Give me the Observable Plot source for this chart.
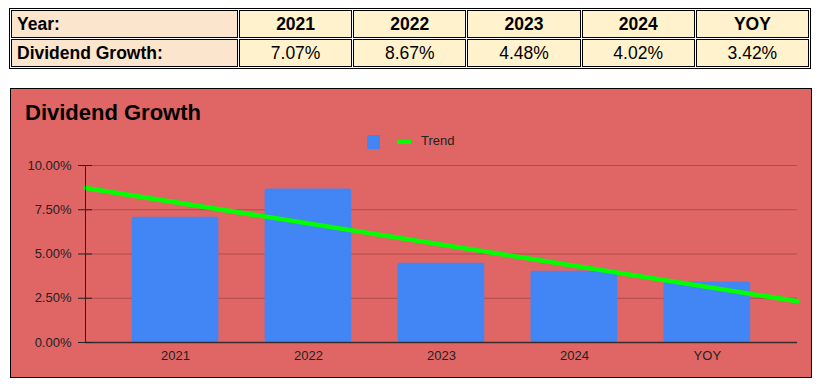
<!DOCTYPE html>
<html>
<head>
<meta charset="utf-8">
<script src="https://cdn.jsdelivr.net/npm/d3@7"></script>
<script src="https://cdn.jsdelivr.net/npm/@observablehq/plot@0.6"></script>
<style>
  html, body { margin: 0; padding: 0; background: #fff; }
  body { width: 822px; height: 384px; position: relative; font-family: "Liberation Sans", Arial, sans-serif; }
  table.summary {
    position: absolute; left: 9px; top: 8px;
    width: 802px; box-sizing: border-box;
    border: 1px solid #000; border-collapse: separate; border-spacing: 1px;
    table-layout: fixed; font-size: 17.5px; color: #000;
  }
  table.summary td {
    box-sizing: border-box; height: 28px; border: 1px solid #000;
    padding: 0 5px; vertical-align: middle; text-align: center;
    background: #fff2cc; white-space: nowrap;
  }
  table.summary td.lab { background: #fce5cd; text-align: left; font-weight: bold; width: 227px; }
  table.summary tr.head td { font-weight: bold; }
  #chartbox {
    position: absolute; left: 10px; top: 88px; width: 800px; height: 288px;
    border: 1px solid #000; background: #e06666; overflow: hidden;
  }
  #title { position: absolute; left: 14px; top: 13px; font-size: 22px; line-height: 22px; font-weight: bold; color: #000; white-space: nowrap; }
  #legend { position: absolute; left: 0; top: 0; }
  .lg-sq { position: absolute; left: 356px; top: 46px; width: 13px; height: 14px; background: #4285f4; border-radius: 1px; }
  .lg-ln { position: absolute; left: 386px; top: 51px; width: 14px; height: 4px; background: #00ff00; }
  .lg-tx { position: absolute; left: 410px; top: 45px; font-size: 13px; line-height: 13px; color: #222; white-space: nowrap; }
  #plot { position: absolute; left: 0; top: 0; }
</style>
</head>
<body>
<table class="summary" id="tbl"></table>
<div id="chartbox">
  <div id="plot"></div>
  <div id="title">Dividend Growth</div>
  <div id="legend">
    <div class="lg-sq"></div>
    <div class="lg-ln"></div>
    <div class="lg-tx">Trend</div>
  </div>
</div>
<script>
// ---- data ----
const categories = ["2021", "2022", "2023", "2024", "YOY"];
const growth = [7.07, 8.67, 4.48, 4.02, 3.42];          // percent
const yTicks = [0, 2.5, 5, 7.5, 10];                     // percent
const tableHeaderLabel = "Year:";
const tableRowLabel = "Dividend Growth:";
// trend line endpoints (category-index units, percent)
const trendX = [-0.677, 4.678];
const trendY = [8.73, 2.33];

// ---- table ----
const tbl = document.getElementById("tbl");
const tr1 = document.createElement("tr"); tr1.className = "head";
const tr2 = document.createElement("tr");
const mk = (tr, text, cls) => { const td = document.createElement("td"); td.textContent = text; if (cls) td.className = cls; tr.appendChild(td); };
mk(tr1, tableHeaderLabel, "lab");
mk(tr2, tableRowLabel, "lab");
categories.forEach((c, i) => { mk(tr1, c); mk(tr2, growth[i].toFixed(2) + "%"); });
tbl.appendChild(tr1); tbl.appendChild(tr2);

// ---- chart ----
const data = categories.map((c, i) => ({i, c, v: growth[i]}));
const trend = trendX.map((x, k) => ({x, y: trendY[k]}));
const xDomain = [trendX[0], trendX[1]];
const barHalf = 0.326;

const chart = Plot.plot({
  width: 800,
  height: 288,
  marginLeft: 74,
  marginRight: 14,
  marginTop: 76,
  marginBottom: 35,
  style: {background: "transparent", fontFamily: "'Liberation Sans', Arial, sans-serif", fontSize: "13px", color: "#222", overflow: "visible"},
  x: {type: "linear", domain: xDomain, axis: null},
  y: {domain: [0, 10], axis: null},
  marks: [
    Plot.ruleY(yTicks, {stroke: "#ad4c4c", strokeWidth: 1.2}),
    Plot.rect(data, {x1: d => d.i - barHalf, x2: d => d.i + barHalf, y1: 0, y2: "v", fill: "#4285f4", rx: 2}),
    Plot.line(trend, {x: "x", y: "y", stroke: "#00ff00", strokeWidth: 4.5}),
    Plot.ruleX([xDomain[0]], {y1: 0, y2: 10, stroke: "#222", strokeWidth: 1}),
    Plot.ruleY([0], {stroke: "#3a2a2a", strokeWidth: 1.6}),
    Plot.axisY({ticks: yTicks, tickSize: 14, dx: 7, tickPadding: 7, tickFormat: d => d.toFixed(2) + "%", stroke: "#222", fill: "#222", label: null}),
    Plot.axisX({ticks: [0, 1, 2, 3, 4], tickFormat: i => categories[i], tickSize: 0, tickPadding: 8.5, fill: "#222", label: null})
  ]
});
document.getElementById("plot").appendChild(chart);
</script>
</body>
</html>
